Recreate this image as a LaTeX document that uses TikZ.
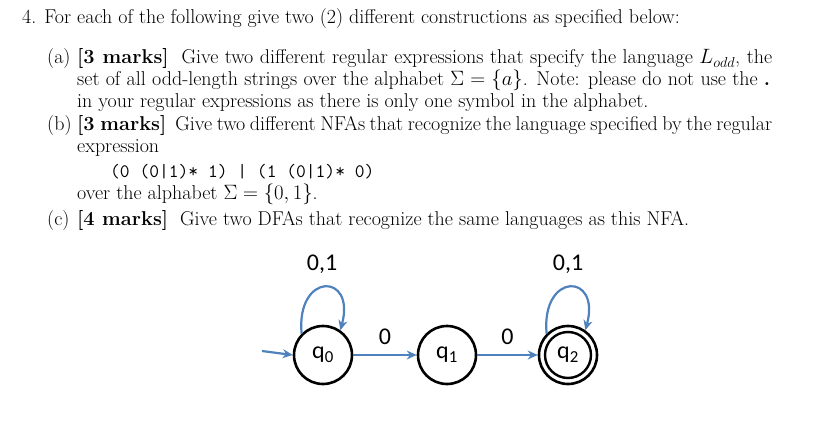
\documentclass[tikz,border=0pt]{standalone}
\usepackage{fontspec}
\newfontfamily\calib{Carlito}
\usetikzlibrary{arrows.meta}
\definecolor{eblue}{RGB}{79,129,189}
\tikzset{
  txt/.style={anchor=base west,inner sep=0pt,font=\fontsize{20}{24}\selectfont},
  st/.style={circle,draw=black,line width=2.6pt,minimum size=58pt,inner sep=0pt,font=\calib\fontsize{24}{28}\selectfont},
  tr/.style={draw=eblue,line width=2.2pt,-{Stealth[length=10pt,width=9pt]}},
  lbl/.style={font=\calib\fontsize{24}{28}\selectfont,inner sep=0pt}
}
\begin{document}
\begin{tikzpicture}[x=1pt,y=-1pt]
\useasboundingbox (0,0) rectangle (834,422);
\node[txt] (l0) at (22,24) {4. For each of the following give two (2) different constructions as specified below:};
\node[txt] (a0) at (47,64) {(a)};
\node[txt] (a1) at (77,64) {\hbox to 695pt{\textbf{[3 marks]}\ \ Give two different regular expressions that specify the language $L_{odd}$, the}};
\node[txt] (a2) at (77,86) {\hbox to 693pt{set of all odd-length strings over the alphabet $\Sigma=\{a\}$. Note: please do not use the \textbf{.}}};
\node[txt] (a3) at (77,108) {in your regular expressions as there is only one symbol in the alphabet.};
\node[txt] (b0) at (47,131) {(b)};
\node[txt] (b1) at (77,131) {\hbox to 695pt{\textbf{[3 marks]}\ \ Give two different NFAs that recognize the language specified by the regular}};
\node[txt] (b2) at (77,153) {expression};
\node[txt] (b3) at (110,177) {\fontsize{19}{21}\selectfont\ttfamily (0 (0|1)* 1) | (1 (0|1)* 0)};
\node[txt] (b4) at (77,199) {over the alphabet $\Sigma=\{0,1\}$.};
\node[txt] (c0) at (47,225) {(c)};
\node[txt] (c1) at (77,225) {\textbf{[4 marks]}\ \ Give two DFAs that recognize the same languages as this NFA.};

\node[st] (q0) at (323,355) {q\textsubscript{0}};
\node[st] (q1) at (447,355) {q\textsubscript{1}};
\node[st] (q2) at (568,355) {q\textsubscript{2}};
\node[circle,draw=black,line width=2.4pt,minimum size=46pt] (q2i) at (q2) {};
\coordinate (s) at (262,351);
\draw[tr] (s) -- (q0.west);
\draw[tr] (q0.135) .. controls (296,272) and (356,272) .. (q0.55);
\draw[tr] (q2.135) .. controls (541,272) and (601,272) .. (q2.55);
\draw[tr] (q0) -- node[lbl,above=9pt]{0} (q1);
\draw[tr] (q1) -- node[lbl,above=9pt]{0} (q2);
\node[lbl] (la) at (322,264) {0,1};
\node[lbl] (lb) at (568,264) {0,1};
\end{tikzpicture}
\end{document}
